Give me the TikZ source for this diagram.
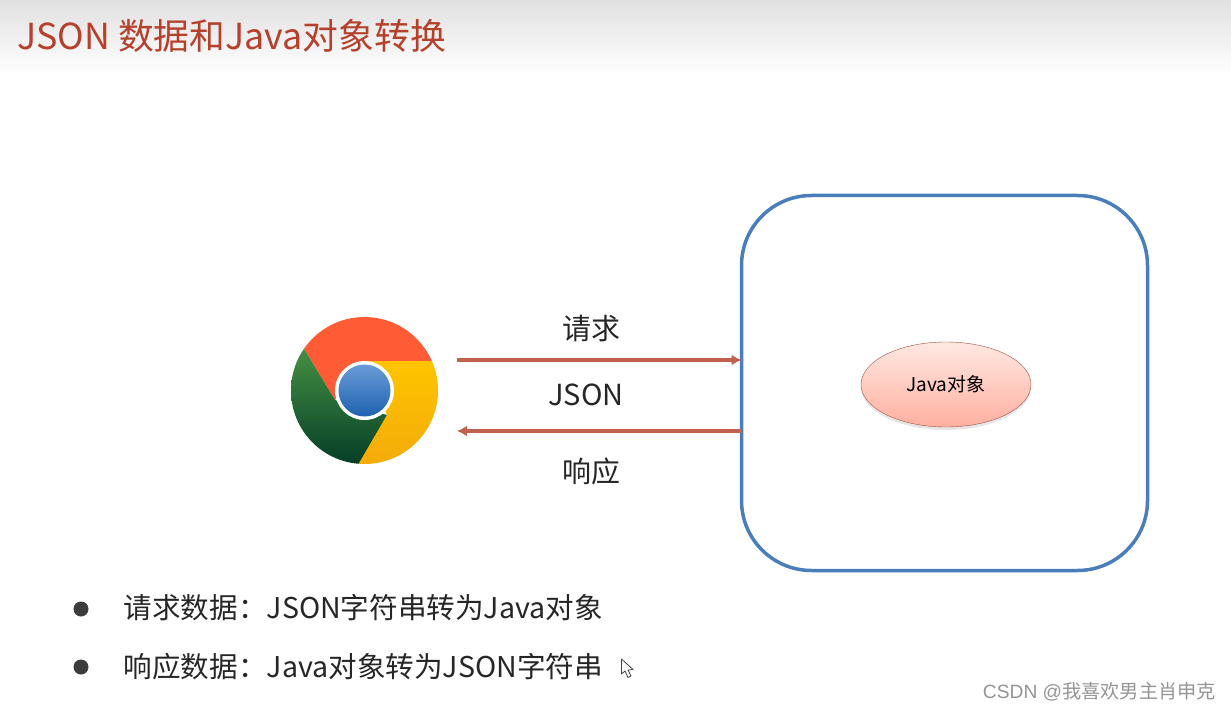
\documentclass[tikz,border=0pt]{standalone}
\usepackage{fontspec}
\setmainfont{Noto Sans CJK SC}[Scale=1.0]
\newfontfamily\markfont{Liberation Sans}
\usetikzlibrary{shapes.geometric,shadows,arrows.meta}
\definecolor{titlered}{HTML}{B5402C}
\definecolor{arrowred}{HTML}{C0604D}
\definecolor{boxblue}{HTML}{4A7EBB}
\definecolor{bodytext}{HTML}{262626}
\tikzset{
  label text/.style={text=bodytext, inner sep=0pt, font=\fontsize{29}{32}\selectfont},
  line text/.style={text=bodytext, inner sep=0pt, anchor=west, font=\fontsize{28.6}{32}\selectfont},
  dot/.style={shape=circle, fill=bodytext!90, inner sep=0pt, minimum size=15pt},
  flow/.style={-{Latex[length=10pt,width=11pt]}, line width=3.5pt, draw=arrowred},
}
\begin{document}
\begin{tikzpicture}[x=1pt, y=-1pt]
\useasboundingbox (0,0) rectangle (1231,711);
\shade[top color=black!12, bottom color=white] (0,0) rectangle (1231,74);
\node[text=titlered, anchor=west, inner sep=0pt, font=\fontsize{35.8}{40}\selectfont] (title) at (17,36) {JSON 数据和Java对象转换};
% browser logo
\node[shape=circle, inner sep=0pt, minimum size=147pt] (browser) at (364.5,390.5) {};
\begin{scope}
\clip (364.5,390.5) circle (73.5);
\fill[color={rgb,255:red,255;green,92;blue,53}] (335,400) -- (300,342) -- (300,300) -- (445,300) -- (445,361) -- (365,361) -- cycle;
\shade[shading angle=-50, top color={rgb,255:red,72;green,148;blue,68}, middle color={rgb,255:red,62;green,135;blue,64}, bottom color={rgb,255:red,2;green,58;blue,38}] (335,400) -- (300,342) -- (280,342) -- (280,470) -- (360,470) -- (387,415) -- cycle;
\shade[top color={rgb,255:red,255;green,196;blue,0}, bottom color={rgb,255:red,243;green,170;blue,10}] (365,361) -- (445,361) -- (445,470) -- (355,470) -- (387,415) -- cycle;
\end{scope}
\fill[white] (browser.center) circle (29.5);
\shade[top color={rgb,255:red,106;green,155;blue,216}, bottom color={rgb,255:red,30;green,98;blue,176}] (browser.center) circle (26);
% server box
\node[shape=rectangle, draw=boxblue, line width=3.5pt, outer sep=0pt, rounded corners=70pt, minimum width=406pt, minimum height=375pt, inner sep=0pt] (server) at (944.5,383) {};
\node[shape=ellipse, draw=arrowred!85!black, thin, top color={rgb,255:red,255;green,232;blue,226}, bottom color={rgb,255:red,255;green,176;blue,160}, drop shadow={shadow xshift=0pt, shadow yshift=-3pt, opacity=0.2}, minimum width=170pt, minimum height=85pt, inner sep=0pt, font=\fontsize{19}{22}\selectfont] (object) at (946,384.5) {Java对象};
% arrows
\coordinate (reqstart) at (457,360);
\coordinate (respend) at (457,431);
\draw[flow] (reqstart) -- (server.west |- reqstart);
\draw[flow] (server.west |- respend) -- (respend);
\node[label text] (request) at (591,329) {请求};
\node[label text] (json) at (586,395) {JSON};
\node[label text] (response) at (591,471) {响应};
% bullet lines
\node[dot] (dot1) at (81,609) {};
\node[dot] (dot2) at (81,667) {};
\node[line text] (line1) at (123.5,608) {请求数据：JSON字符串转为Java对象};
\node[line text] (line2) at (123.5,667) {响应数据：Java对象转为JSON字符串};
% pointer
\coordinate (tip) at (621.5,659);
\draw[black!75, fill=white, line width=0.8pt, line join=round] (tip) -- ++(0,15) -- ++(3.5,-3) -- ++(3,6.5) -- ++(3,-1.5) -- ++(-3,-6) -- ++(5,-0.5) -- cycle;
\node[text=black!42, anchor=east, inner sep=0pt, font=\fontsize{19.2}{22}\selectfont] (mark) at (1216,692) {{\markfont CSDN @}我喜欢男主肖申克};
\end{tikzpicture}
\end{document}
